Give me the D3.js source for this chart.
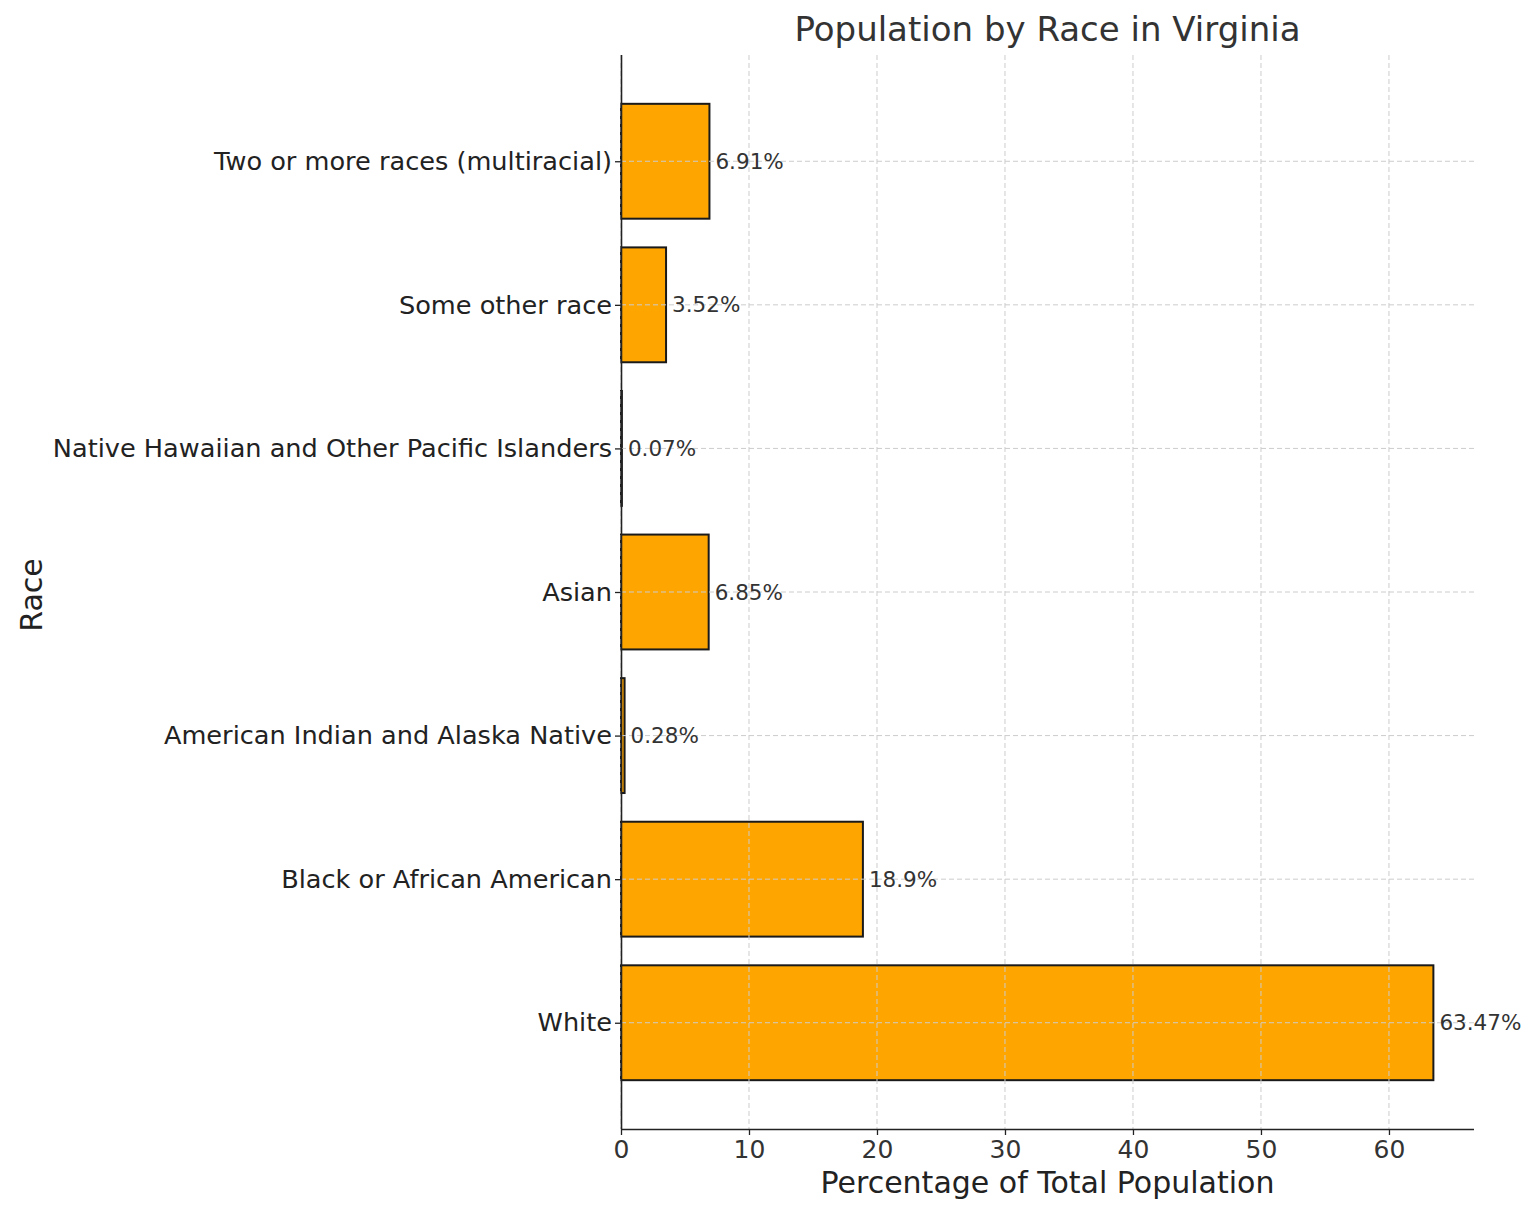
<!DOCTYPE html>
<html>
<head>
<meta charset="utf-8">
<script src="https://cdn.jsdelivr.net/npm/d3@7"></script>
<style>
  body { margin: 0; background: #fff; }
  svg text { font-family: "DejaVu Sans", sans-serif; fill: #333; }
</style>
</head>
<body>
<svg id="chart" width="1536" height="1215"></svg>
<script>
// -------------------------
// Data
// -------------------------
const races = [
    "White",
    "Black or African American",
    "American Indian and Alaska Native",
    "Asian",
    "Native Hawaiian and Other Pacific Islanders",
    "Some other race",
    "Two or more races (multiracial)"
];
const percents = [63.47, 18.9, 0.28, 6.85, 0.07, 3.52, 6.91];
const valueLabels = ["63.47%", "18.9%", "0.28%", "6.85%", "0.07%", "3.52%", "6.91%"];
const xTicks = [0, 10, 20, 30, 40, 50, 60];

// -------------------------
// Layout
// -------------------------
const plotLeft = 621, plotRight = 1474, plotTop = 55, plotBottom = 1129;
const svg = d3.select("#chart");

const x = d3.scaleLinear()
    .domain([0, d3.max(percents) * 1.05])
    .range([plotLeft, plotRight]);

// category index -> y, with matplotlib-like margins
const y = d3.scaleLinear()
    .domain([-0.74, races.length - 1 + 0.74])
    .range([plotBottom, plotTop]);
const barH = y(0) - y(0.8);

// -------------------------
// Bars
// -------------------------
svg.append("g")
    .selectAll("rect")
    .data(percents)
    .enter()
    .append("rect")
    .attr("x", x(0))
    .attr("y", (d, i) => y(i + 0.4))
    .attr("width", d => x(d) - x(0))
    .attr("height", barH)
    .attr("fill", "#ffa500")
    .attr("stroke", "#1a1a1a")
    .attr("stroke-width", 2);

// grid (drawn above bars, like the reference)
const grid = svg.append("g");
grid.selectAll("line.vx")
    .data(xTicks)
    .enter()
    .append("line")
    .attr("x1", d => x(d)).attr("x2", d => x(d))
    .attr("y1", plotTop).attr("y2", plotBottom)
    .attr("stroke", "#cccccc")
    .attr("stroke-width", 1)
    .attr("stroke-dasharray", "5,3");
grid.selectAll("line.hy")
    .data(races)
    .enter()
    .append("line")
    .attr("x1", plotLeft).attr("x2", plotRight)
    .attr("y1", (d, i) => y(i)).attr("y2", (d, i) => y(i))
    .attr("stroke", "#cccccc")
    .attr("stroke-width", 1)
    .attr("stroke-dasharray", "5,3");

// value labels
svg.append("g")
    .selectAll("text")
    .data(percents)
    .enter()
    .append("text")
    .attr("x", d => x(d) + 6)
    .attr("y", (d, i) => y(i))
    .attr("dy", "0.35em")
    .attr("font-size", 21.5)
    .text((d, i) => valueLabels[i]);

// -------------------------
// Axes
// -------------------------
const xAxis = svg.append("g")
    .attr("transform", `translate(0,${plotBottom})`)
    .call(d3.axisBottom(x).tickValues(xTicks).tickSize(6).tickPadding(5).tickSizeOuter(0));
xAxis.select(".domain").attr("stroke", "#222").attr("stroke-width", 1.6)
    .attr("d", `M${plotLeft},0.5H${plotRight}`);
xAxis.selectAll(".tick line").attr("stroke", "#222").attr("stroke-width", 1.3);
xAxis.selectAll("text").attr("font-size", 25).style("fill", "#333");

const yAxis = svg.append("g")
    .attr("transform", `translate(${plotLeft},0)`)
    .call(d3.axisLeft(y).tickValues(d3.range(races.length)).tickFormat(i => races[i])
        .tickSize(6).tickPadding(3).tickSizeOuter(0));
yAxis.select(".domain").attr("stroke", "#222").attr("stroke-width", 1.6)
    .attr("d", `M0.5,${plotTop}V${plotBottom}`);
yAxis.selectAll(".tick line").attr("stroke", "#222").attr("stroke-width", 1.3);
yAxis.selectAll("text").attr("font-size", 25.6).style("fill", "#222");

// titles
svg.append("text")
    .attr("x", (plotLeft + plotRight) / 2)
    .attr("y", 41)
    .attr("text-anchor", "middle")
    .attr("font-size", 34)
    .text("Population by Race in Virginia");

svg.append("text")
    .attr("x", (plotLeft + plotRight) / 2)
    .attr("y", 1193)
    .attr("text-anchor", "middle")
    .attr("font-size", 30)
    .style("fill", "#222")
    .text("Percentage of Total Population");

svg.append("text")
    .attr("transform", `translate(42,${(plotTop + plotBottom) / 2 + 3}) rotate(-90)`)
    .attr("text-anchor", "middle")
    .attr("font-size", 30)
    .style("fill", "#222")
    .text("Race");
</script>
</body>
</html>
